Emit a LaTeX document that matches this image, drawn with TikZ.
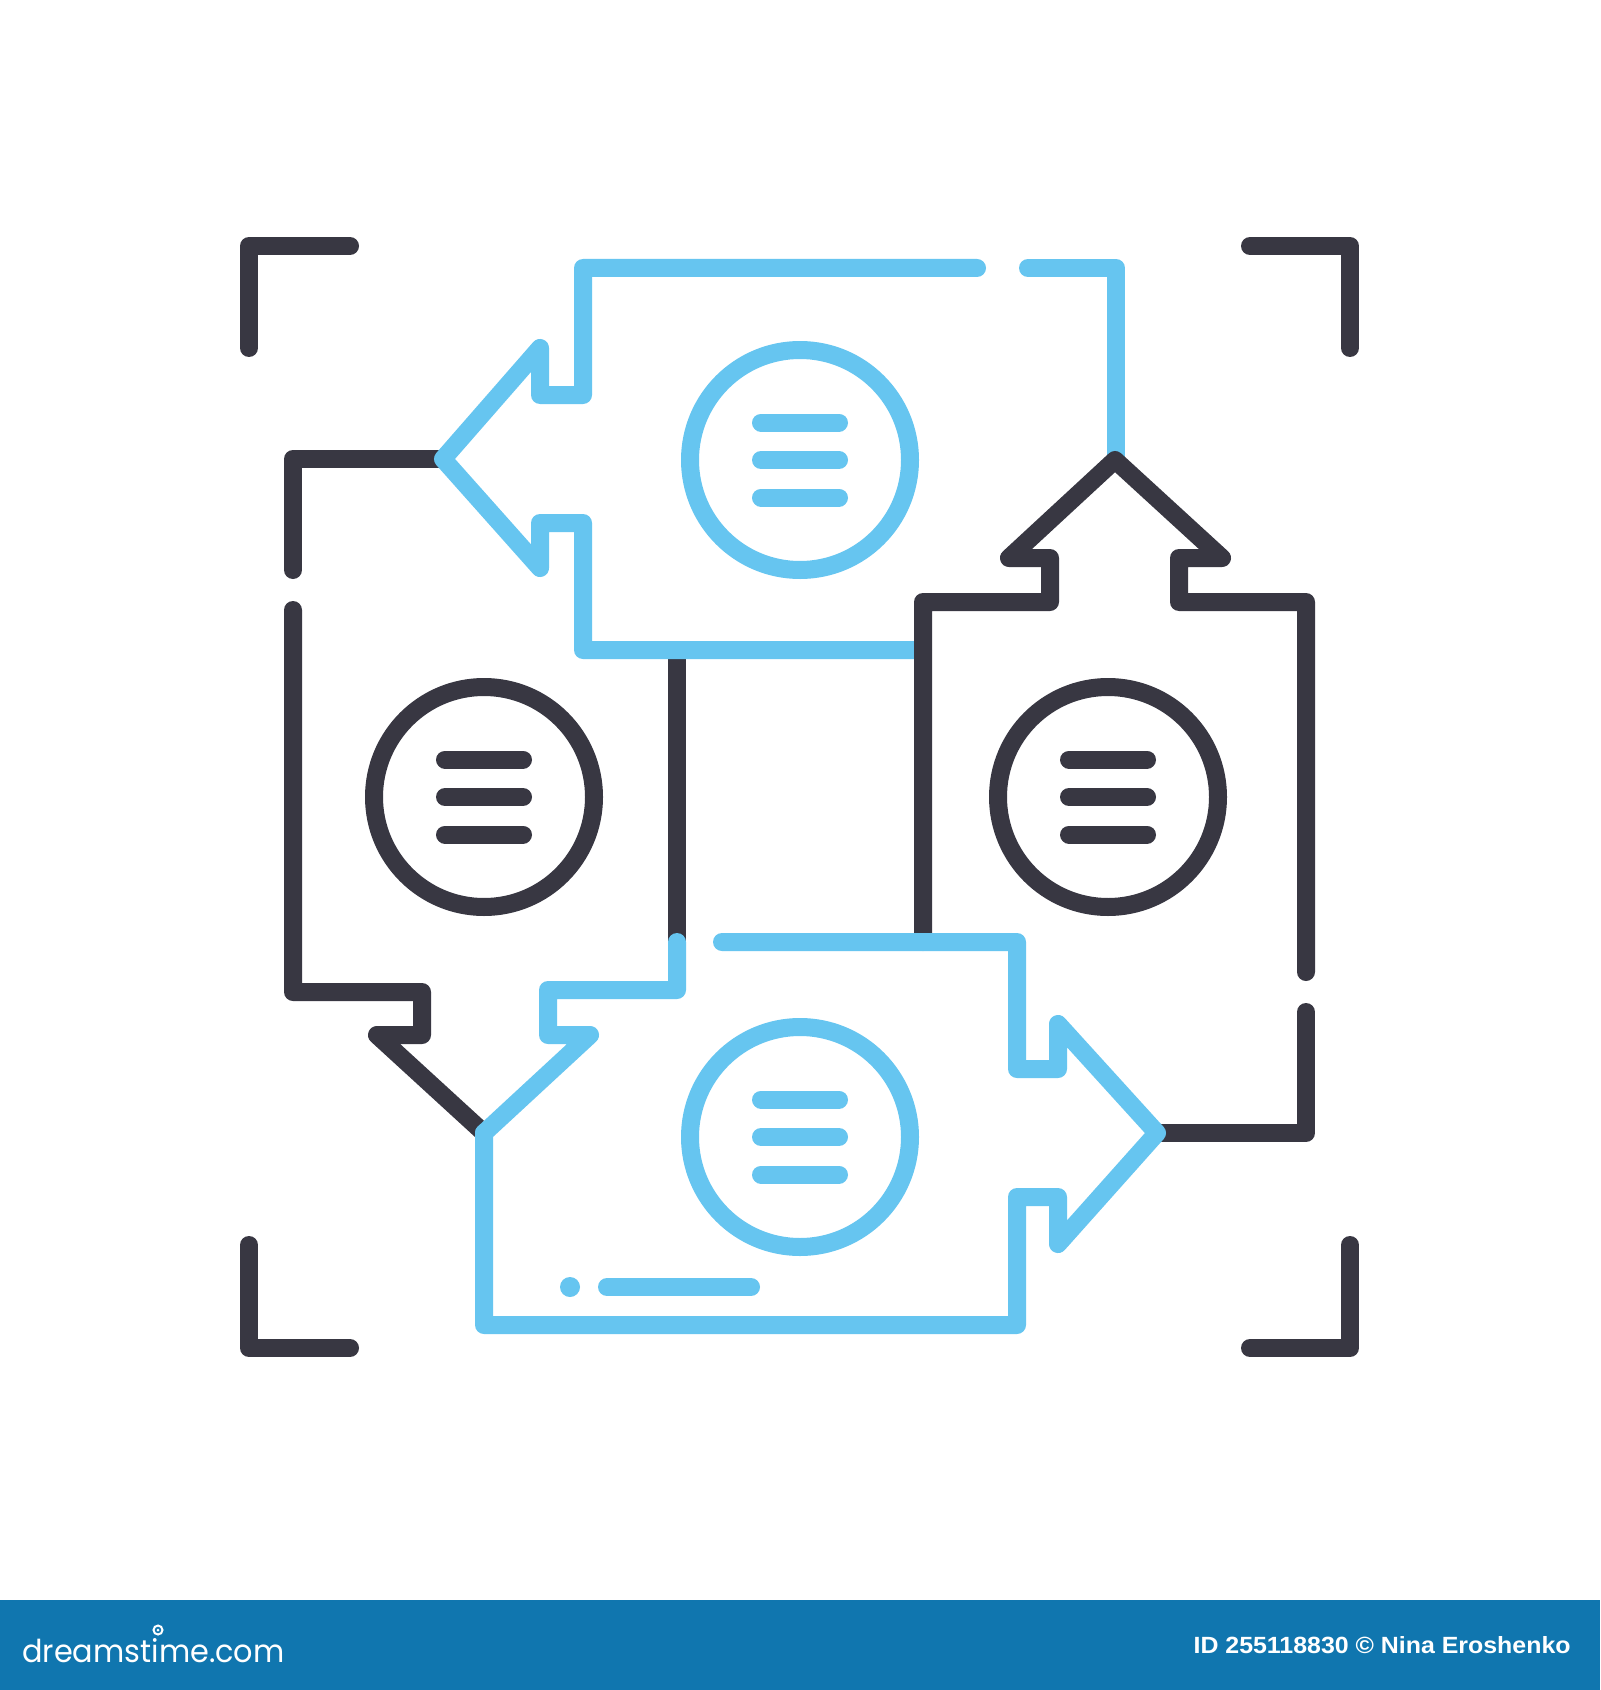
\documentclass[tikz,border=0pt]{standalone}
\usepackage{fontspec}
\usepackage{graphicx}
\setmainfont{Liberation Sans}
\newfontfamily\logofont{Poppins}
\definecolor{ink}{RGB}{56,55,66}
\definecolor{sky}{RGB}{102,197,240}
\definecolor{banner}{RGB}{16,118,175}
\tikzset{
  darkline/.style={draw=ink, line width=9pt, line cap=round, line join=round},
  blueline/.style={draw=sky, line width=9pt, line cap=round, line join=round},
}
\newcommand{\menuicon}[3]{% center x, y, style
  \draw[#3] (#1,#2) circle[radius=110];
  \draw[#3] (#1-39,#2-37.5) -- (#1+39,#2-37.5);
  \draw[#3] (#1-39,#2) -- (#1+39,#2);
  \draw[#3] (#1-39,#2+37.5) -- (#1+39,#2+37.5);
}
\begin{document}
\begin{tikzpicture}[x=0.5pt,y=-0.5pt]
\useasboundingbox (0,0) rectangle (1600,1690);
\fill[white] (0,0) rectangle (1600,1690);

% corner brackets
\draw[darkline] (249,348) -- (249,246) -- (350,246);
\draw[darkline] (1250,246) -- (1350,246) -- (1350,348);
\draw[darkline] (249,1245) -- (249,1348) -- (350,1348);
\draw[darkline] (1250,1348) -- (1350,1348) -- (1350,1245);

% left dark box (arrow down)
\draw[darkline] (443,459) -- (293,459) -- (293,570);
\draw[darkline] (293,610) -- (293,992) -- (422,992) -- (422,1035) -- (377,1035) -- (484,1133);
\draw[darkline] (677,650) -- (677,942);
\menuicon{484}{797}{darkline}

% top blue box (arrow left)
\draw[blueline] (977,268) -- (583,268) -- (583,395) -- (540,395) -- (540,348) -- (443,459)
  -- (540,568) -- (540,523) -- (583,523) -- (583,650) -- (923,650);
\draw[blueline] (1028,268) -- (1116,268) -- (1116,460);
\menuicon{800}{460}{blueline}

% right dark box (arrow up)
\draw[darkline] (923,942) -- (923,602) -- (1050,602) -- (1050,558) -- (1009,558) -- (1115,460)
  -- (1222,558) -- (1179,558) -- (1179,602) -- (1306,602) -- (1306,972);
\draw[darkline] (1306,1012) -- (1306,1133) -- (1157,1133);
\menuicon{1108}{797}{darkline}

% bottom blue box (arrow right)
\draw[blueline] (484,1133) -- (590,1035) -- (548,1035) -- (548,990) -- (677,990) -- (677,942);
\draw[blueline] (722,942) -- (1017,942) -- (1017,1069) -- (1058,1069) -- (1058,1024) -- (1157,1133)
  -- (1058,1244) -- (1058,1197) -- (1017,1197) -- (1017,1325) -- (484,1325) -- (484,1133);
\fill[sky] (570,1287) circle[radius=10];
\draw[blueline] (607,1287) -- (751,1287);
\menuicon{800}{1137}{blueline}

% banner
\fill[banner] (0,1600) rectangle (1600,1690);
\node[anchor=base west, inner sep=0, text=white] (logo) at (22,1662)
  {\resizebox{131pt}{12pt}{\logofont dreamstime.com}};
\draw[white, line width=1pt] (158,1630) circle[radius=4.5];
\fill[white] (158,1630) circle[radius=1.5];
\node[anchor=base east, inner sep=0, text=white] (credit) at (1571,1653)
  {\resizebox{188.5pt}{8.5pt}{\bfseries ID 255118830 © Nina Eroshenko}};
\end{tikzpicture}
\end{document}
